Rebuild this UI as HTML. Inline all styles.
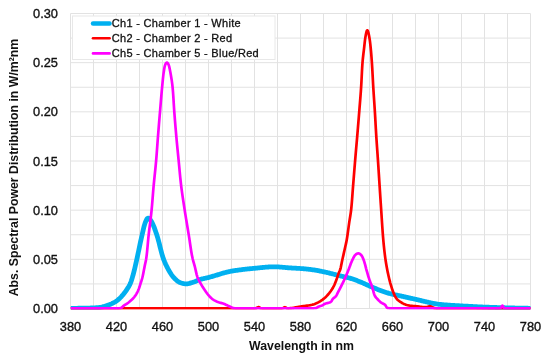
<!DOCTYPE html>
<html><head><meta charset="utf-8"><style>
html,body{margin:0;padding:0;background:#fff;}
svg{display:block;}
text{font-family:"Liberation Sans",sans-serif;fill:#111;}
</style></head><body>
<svg width="550" height="361" viewBox="0 0 550 361">
<rect width="550" height="361" fill="#fff"/>
<g stroke="#e2e2e2" stroke-width="1" fill="none">
<line x1="70.5" y1="13.5" x2="70.5" y2="308.5"/>
<line x1="93.5" y1="13.5" x2="93.5" y2="308.5"/>
<line x1="116.5" y1="13.5" x2="116.5" y2="308.5"/>
<line x1="139.5" y1="13.5" x2="139.5" y2="308.5"/>
<line x1="162.5" y1="13.5" x2="162.5" y2="308.5"/>
<line x1="185.5" y1="13.5" x2="185.5" y2="308.5"/>
<line x1="208.5" y1="13.5" x2="208.5" y2="308.5"/>
<line x1="231.5" y1="13.5" x2="231.5" y2="308.5"/>
<line x1="254.5" y1="13.5" x2="254.5" y2="308.5"/>
<line x1="277.5" y1="13.5" x2="277.5" y2="308.5"/>
<line x1="300.5" y1="13.5" x2="300.5" y2="308.5"/>
<line x1="323.5" y1="13.5" x2="323.5" y2="308.5"/>
<line x1="346.5" y1="13.5" x2="346.5" y2="308.5"/>
<line x1="369.5" y1="13.5" x2="369.5" y2="308.5"/>
<line x1="392.5" y1="13.5" x2="392.5" y2="308.5"/>
<line x1="415.5" y1="13.5" x2="415.5" y2="308.5"/>
<line x1="438.5" y1="13.5" x2="438.5" y2="308.5"/>
<line x1="461.5" y1="13.5" x2="461.5" y2="308.5"/>
<line x1="484.5" y1="13.5" x2="484.5" y2="308.5"/>
<line x1="507.5" y1="13.5" x2="507.5" y2="308.5"/>
<line x1="530.5" y1="13.5" x2="530.5" y2="308.5"/>
<line x1="70.5" y1="13.50" x2="530.5" y2="13.50"/>
<line x1="70.5" y1="38.08" x2="530.5" y2="38.08"/>
<line x1="70.5" y1="62.67" x2="530.5" y2="62.67"/>
<line x1="70.5" y1="87.25" x2="530.5" y2="87.25"/>
<line x1="70.5" y1="111.83" x2="530.5" y2="111.83"/>
<line x1="70.5" y1="136.41" x2="530.5" y2="136.41"/>
<line x1="70.5" y1="161.00" x2="530.5" y2="161.00"/>
<line x1="70.5" y1="185.58" x2="530.5" y2="185.58"/>
<line x1="70.5" y1="210.16" x2="530.5" y2="210.16"/>
<line x1="70.5" y1="234.75" x2="530.5" y2="234.75"/>
<line x1="70.5" y1="259.33" x2="530.5" y2="259.33"/>
<line x1="70.5" y1="283.91" x2="530.5" y2="283.91"/>
<line x1="70.5" y1="308.50" x2="530.5" y2="308.50"/>
</g>
<defs><clipPath id="pa"><rect x="69" y="12" width="462.5" height="297.4"/></clipPath></defs>
<g fill="none" stroke-linejoin="round" stroke-linecap="butt" clip-path="url(#pa)">
<polyline stroke="#00b0f0" stroke-width="4.8" points="70.78,308.30 71.30,308.30 72.00,308.30 72.75,308.30 73.50,308.29 74.25,308.29 75.00,308.29 75.75,308.28 76.50,308.28 77.25,308.28 78.00,308.27 78.75,308.26 79.50,308.26 80.25,308.25 81.00,308.24 81.75,308.24 82.50,308.23 83.25,308.22 84.00,308.21 84.75,308.20 85.50,308.19 86.25,308.18 87.00,308.16 87.75,308.14 88.50,308.11 89.25,308.09 90.00,308.06 90.75,308.02 91.50,307.99 92.25,307.96 92.99,307.92 93.74,307.88 94.49,307.84 95.24,307.80 95.99,307.75 96.74,307.70 97.49,307.64 98.23,307.58 98.98,307.51 99.72,307.42 100.47,307.32 101.21,307.19 101.94,307.04 102.67,306.86 103.39,306.65 104.11,306.44 104.82,306.21 105.53,305.98 106.25,305.75 106.96,305.51 107.67,305.27 108.38,305.02 109.08,304.76 109.78,304.48 110.47,304.20 111.16,303.91 111.85,303.60 112.52,303.28 113.20,302.95 113.86,302.60 114.52,302.24 115.16,301.86 115.80,301.46 116.42,301.04 117.03,300.60 117.62,300.14 118.19,299.66 118.75,299.16 119.31,298.65 119.85,298.14 120.38,297.61 120.91,297.08 121.42,296.53 121.93,295.98 122.42,295.41 122.91,294.84 123.38,294.26 123.85,293.68 124.32,293.09 124.77,292.49 125.22,291.89 125.66,291.28 126.09,290.67 126.51,290.05 126.92,289.42 127.33,288.79 127.73,288.16 128.13,287.52 128.52,286.88 128.90,286.24 129.27,285.58 129.63,284.92 129.96,284.25 130.27,283.57 130.56,282.88 130.84,282.18 131.10,281.48 131.35,280.77 131.58,280.06 131.81,279.35 132.03,278.63 132.25,277.91 132.46,277.19 132.66,276.47 132.86,275.74 133.06,275.02 133.25,274.30 133.45,273.57 133.64,272.85 133.83,272.12 134.02,271.40 134.20,270.67 134.39,269.94 134.56,269.21 134.74,268.48 134.91,267.75 135.08,267.02 135.25,266.29 135.42,265.56 135.58,264.83 135.75,264.10 135.91,263.37 136.08,262.63 136.24,261.90 136.40,261.17 136.57,260.44 136.73,259.71 136.90,258.98 137.06,258.24 137.22,257.51 137.38,256.78 137.54,256.05 137.70,255.31 137.86,254.58 138.01,253.85 138.17,253.11 138.32,252.38 138.47,251.64 138.63,250.91 138.78,250.18 138.93,249.44 139.08,248.71 139.24,247.97 139.39,247.24 139.54,246.50 139.70,245.77 139.85,245.04 140.00,244.30 140.16,243.57 140.32,242.83 140.47,242.10 140.63,241.37 140.79,240.63 140.95,239.90 141.11,239.17 141.28,238.44 141.44,237.71 141.61,236.98 141.78,236.25 141.95,235.52 142.13,234.79 142.30,234.06 142.46,233.32 142.63,232.59 142.79,231.86 142.95,231.13 143.11,230.39 143.27,229.66 143.44,228.93 143.61,228.20 143.79,227.47 143.97,226.74 144.16,226.02 144.37,225.30 144.59,224.58 144.82,223.87 145.06,223.16 145.33,222.46 145.60,221.76 145.89,221.07 146.20,220.38 146.53,219.71 146.90,219.06 147.34,218.49 147.89,218.10 148.51,218.08 149.11,218.40 149.63,218.92 150.10,219.50 150.53,220.11 150.95,220.73 151.34,221.37 151.72,222.01 152.09,222.67 152.43,223.34 152.76,224.01 153.07,224.69 153.38,225.38 153.67,226.07 153.95,226.76 154.22,227.46 154.48,228.17 154.74,228.87 154.99,229.58 155.24,230.28 155.48,230.99 155.72,231.70 155.96,232.41 156.20,233.13 156.44,233.84 156.68,234.55 156.92,235.26 157.15,235.97 157.37,236.69 157.59,237.41 157.80,238.13 158.00,238.85 158.21,239.57 158.40,240.29 158.60,241.02 158.79,241.74 158.97,242.47 159.16,243.20 159.34,243.92 159.52,244.65 159.70,245.38 159.88,246.11 160.06,246.84 160.24,247.56 160.42,248.29 160.60,249.02 160.78,249.75 160.97,250.47 161.16,251.20 161.35,251.93 161.55,252.65 161.75,253.37 161.95,254.09 162.16,254.81 162.38,255.53 162.60,256.25 162.83,256.96 163.06,257.67 163.30,258.38 163.55,259.09 163.81,259.79 164.08,260.50 164.36,261.19 164.64,261.89 164.94,262.58 165.24,263.26 165.54,263.95 165.86,264.63 166.18,265.31 166.51,265.98 166.84,266.65 167.18,267.32 167.53,267.98 167.88,268.65 168.24,269.30 168.61,269.96 168.98,270.61 169.36,271.26 169.74,271.90 170.13,272.54 170.53,273.18 170.93,273.81 171.34,274.44 171.76,275.06 172.20,275.67 172.65,276.27 173.12,276.86 173.60,277.43 174.11,277.98 174.63,278.52 175.16,279.05 175.71,279.56 176.27,280.06 176.84,280.55 177.43,281.01 178.04,281.44 178.67,281.84 179.33,282.20 180.01,282.51 180.71,282.77 181.42,283.01 182.14,283.23 182.86,283.43 183.59,283.60 184.33,283.74 185.07,283.83 185.82,283.87 186.57,283.86 187.31,283.79 188.05,283.68 188.79,283.53 189.51,283.35 190.23,283.14 190.95,282.92 191.67,282.69 192.38,282.46 193.09,282.23 193.80,281.99 194.51,281.75 195.21,281.48 195.90,281.19 196.59,280.89 197.27,280.58 197.96,280.28 198.65,280.00 199.36,279.73 200.07,279.49 200.78,279.28 201.51,279.08 202.23,278.89 202.96,278.72 203.69,278.55 204.43,278.39 205.16,278.23 205.89,278.07 206.62,277.90 207.35,277.73 208.08,277.55 208.81,277.37 209.53,277.17 210.26,276.98 210.98,276.77 211.70,276.57 212.42,276.36 213.14,276.15 213.86,275.93 214.58,275.72 215.30,275.51 216.02,275.29 216.73,275.08 217.45,274.86 218.17,274.64 218.88,274.41 219.60,274.19 220.31,273.96 221.03,273.74 221.75,273.52 222.47,273.30 223.19,273.09 223.91,272.89 224.63,272.70 225.36,272.51 226.09,272.33 226.82,272.15 227.54,271.98 228.28,271.81 229.01,271.65 229.74,271.49 230.48,271.34 231.21,271.21 231.95,271.08 232.69,270.95 233.43,270.83 234.17,270.72 234.91,270.60 235.66,270.49 236.40,270.38 237.14,270.27 237.88,270.17 238.63,270.07 239.37,269.97 240.11,269.87 240.86,269.77 241.60,269.68 242.34,269.58 243.09,269.49 243.83,269.40 244.58,269.32 245.32,269.23 246.07,269.15 246.81,269.06 247.56,268.98 248.31,268.90 249.05,268.82 249.80,268.75 250.54,268.67 251.29,268.60 252.04,268.52 252.78,268.45 253.53,268.38 254.28,268.31 255.02,268.24 255.77,268.17 256.52,268.10 257.26,268.02 258.01,267.95 258.76,267.87 259.50,267.80 260.25,267.72 260.99,267.65 261.74,267.57 262.49,267.50 263.23,267.43 263.98,267.36 264.73,267.29 265.47,267.23 266.22,267.17 266.97,267.11 267.72,267.06 268.47,267.01 269.22,266.96 269.96,266.92 270.71,266.89 271.46,266.86 272.21,266.84 272.96,266.82 273.71,266.81 274.46,266.80 275.21,266.81 275.96,266.82 276.71,266.85 277.46,266.88 278.21,266.92 278.96,266.96 279.71,267.02 280.45,267.07 281.20,267.13 281.95,267.20 282.70,267.27 283.44,267.34 284.19,267.41 284.94,267.48 285.68,267.55 286.43,267.61 287.18,267.68 287.92,267.74 288.67,267.80 289.42,267.86 290.17,267.91 290.92,267.96 291.66,268.00 292.41,268.04 293.16,268.08 293.91,268.13 294.66,268.17 295.41,268.21 296.16,268.25 296.91,268.29 297.66,268.33 298.40,268.37 299.15,268.42 299.90,268.47 300.65,268.52 301.40,268.57 302.15,268.63 302.89,268.69 303.64,268.75 304.39,268.82 305.13,268.89 305.88,268.97 306.63,269.04 307.37,269.12 308.12,269.20 308.86,269.29 309.61,269.38 310.35,269.47 311.10,269.56 311.84,269.66 312.58,269.76 313.33,269.86 314.07,269.97 314.81,270.08 315.55,270.20 316.29,270.33 317.03,270.46 317.77,270.59 318.50,270.73 319.24,270.88 319.97,271.02 320.71,271.17 321.44,271.33 322.18,271.48 322.91,271.64 323.64,271.80 324.38,271.96 325.11,272.12 325.84,272.28 326.57,272.44 327.30,272.61 328.04,272.78 328.76,272.95 329.49,273.13 330.22,273.31 330.95,273.49 331.68,273.68 332.40,273.86 333.13,274.05 333.86,274.24 334.58,274.42 335.31,274.61 336.03,274.80 336.76,274.99 337.49,275.17 338.21,275.36 338.94,275.54 339.67,275.72 340.40,275.89 341.13,276.07 341.86,276.24 342.59,276.40 343.32,276.57 344.05,276.73 344.78,276.90 345.52,277.06 346.25,277.23 346.98,277.41 347.70,277.59 348.43,277.77 349.16,277.97 349.88,278.17 350.60,278.38 351.31,278.60 352.03,278.83 352.74,279.07 353.45,279.31 354.16,279.56 354.86,279.82 355.56,280.08 356.27,280.34 356.97,280.61 357.67,280.88 358.36,281.15 359.06,281.43 359.76,281.71 360.45,281.99 361.15,282.27 361.84,282.56 362.53,282.86 363.21,283.16 363.90,283.47 364.58,283.78 365.27,284.09 365.95,284.40 366.63,284.71 367.31,285.02 368.00,285.32 368.68,285.63 369.37,285.93 370.06,286.22 370.75,286.52 371.44,286.81 372.13,287.11 372.82,287.40 373.51,287.70 374.20,287.99 374.89,288.28 375.58,288.57 376.28,288.85 376.97,289.13 377.67,289.41 378.37,289.68 379.07,289.95 379.77,290.21 380.48,290.47 381.18,290.73 381.89,290.99 382.59,291.24 383.30,291.49 384.01,291.74 384.72,291.98 385.43,292.22 386.14,292.45 386.85,292.68 387.57,292.90 388.29,293.12 389.01,293.33 389.73,293.52 390.46,293.72 391.18,293.90 391.91,294.07 392.64,294.24 393.38,294.40 394.11,294.56 394.84,294.72 395.58,294.87 396.31,295.02 397.05,295.17 397.78,295.33 398.52,295.48 399.25,295.64 399.98,295.80 400.71,295.96 401.45,296.12 402.18,296.29 402.91,296.45 403.64,296.62 404.37,296.79 405.10,296.95 405.83,297.12 406.56,297.29 407.30,297.46 408.03,297.62 408.76,297.79 409.49,297.96 410.22,298.12 410.95,298.29 411.68,298.45 412.42,298.62 413.15,298.78 413.88,298.94 414.61,299.11 415.34,299.27 416.08,299.43 416.81,299.59 417.54,299.76 418.27,299.93 419.00,300.10 419.73,300.27 420.46,300.45 421.19,300.62 421.92,300.80 422.65,300.98 423.38,301.15 424.10,301.33 424.83,301.51 425.56,301.68 426.29,301.86 427.02,302.03 427.75,302.20 428.48,302.37 429.21,302.53 429.95,302.70 430.68,302.86 431.41,303.01 432.15,303.16 432.88,303.31 433.62,303.45 434.36,303.58 435.10,303.71 435.84,303.84 436.58,303.95 437.32,304.06 438.06,304.17 438.81,304.26 439.55,304.35 440.30,304.43 441.04,304.50 441.79,304.58 442.54,304.65 443.28,304.71 444.03,304.78 444.78,304.84 445.53,304.90 446.27,304.96 447.02,305.01 447.77,305.07 448.52,305.12 449.26,305.17 450.01,305.22 450.76,305.27 451.51,305.32 452.26,305.37 453.01,305.41 453.76,305.46 454.50,305.50 455.25,305.54 456.00,305.59 456.75,305.63 457.50,305.67 458.25,305.71 459.00,305.76 459.75,305.80 460.50,305.84 461.24,305.89 461.99,305.93 462.74,305.97 463.49,306.02 464.24,306.06 464.99,306.10 465.74,306.14 466.49,306.19 467.23,306.23 467.98,306.27 468.73,306.31 469.48,306.35 470.23,306.40 470.98,306.44 471.73,306.48 472.48,306.52 473.22,306.56 473.97,306.60 474.72,306.64 475.47,306.67 476.22,306.71 476.97,306.75 477.72,306.79 478.47,306.82 479.22,306.86 479.97,306.89 480.72,306.93 481.46,306.96 482.21,307.00 482.96,307.03 483.71,307.06 484.46,307.09 485.21,307.12 485.96,307.15 486.71,307.18 487.46,307.21 488.21,307.24 488.96,307.26 489.71,307.29 490.46,307.32 491.21,307.34 491.96,307.36 492.71,307.39 493.46,307.41 494.21,307.44 494.96,307.46 495.71,307.49 496.45,307.51 497.20,307.53 497.95,307.56 498.70,307.58 499.45,307.61 500.20,307.63 500.95,307.65 501.70,307.67 502.45,307.70 503.20,307.72 503.95,307.74 504.70,307.76 505.45,307.78 506.20,307.80 506.95,307.83 507.70,307.85 508.45,307.87 509.20,307.89 509.95,307.91 510.70,307.93 511.45,307.94 512.20,307.96 512.95,307.98 513.70,308.00 514.45,308.02 515.20,308.04 515.95,308.05 516.70,308.07 517.45,308.09 518.20,308.10 518.95,308.12 519.70,308.13 520.45,308.15 521.20,308.16 521.95,308.17 522.70,308.19 523.45,308.20 524.20,308.21 524.95,308.22 525.70,308.24 526.45,308.25 527.20,308.26 527.95,308.27 528.69,308.28 529.44,308.28 530.10,308.29 530.42,308.30"/>
<polyline stroke="#ff0000" stroke-width="2.7" points="70.78,308.30 71.30,308.30 72.00,308.30 72.75,308.30 73.50,308.30 74.25,308.30 75.00,308.30 75.75,308.30 76.50,308.30 77.25,308.30 78.00,308.30 78.75,308.30 79.50,308.30 80.25,308.30 81.00,308.30 81.75,308.30 82.50,308.30 83.25,308.30 84.00,308.30 84.75,308.30 85.50,308.30 86.25,308.30 87.00,308.30 87.75,308.30 88.50,308.30 89.25,308.30 90.00,308.30 90.75,308.30 91.50,308.30 92.25,308.30 93.00,308.30 93.75,308.30 94.50,308.30 95.25,308.30 96.00,308.30 96.75,308.30 97.50,308.30 98.25,308.30 99.00,308.30 99.75,308.30 100.50,308.30 101.25,308.30 102.00,308.30 102.75,308.30 103.50,308.30 104.25,308.30 105.00,308.30 105.75,308.30 106.50,308.30 107.25,308.30 108.00,308.30 108.75,308.30 109.50,308.30 110.25,308.30 111.00,308.30 111.75,308.30 112.50,308.30 113.25,308.30 114.00,308.30 114.75,308.30 115.50,308.30 116.25,308.30 117.00,308.30 117.75,308.30 118.50,308.30 119.25,308.30 120.00,308.30 120.75,308.30 121.50,308.30 122.25,308.30 123.00,308.30 123.75,308.30 124.50,308.30 125.25,308.30 126.00,308.30 126.75,308.30 127.50,308.30 128.25,308.30 129.00,308.30 129.75,308.30 130.50,308.30 131.25,308.30 132.00,308.30 132.75,308.30 133.50,308.30 134.25,308.30 135.00,308.30 135.75,308.30 136.50,308.30 137.25,308.30 138.00,308.30 138.75,308.30 139.50,308.30 140.25,308.30 141.00,308.30 141.75,308.30 142.50,308.30 143.25,308.30 144.00,308.30 144.75,308.30 145.50,308.30 146.25,308.30 147.00,308.30 147.75,308.30 148.50,308.30 149.25,308.30 150.00,308.30 150.75,308.30 151.50,308.30 152.25,308.30 153.00,308.30 153.75,308.30 154.50,308.30 155.25,308.30 156.00,308.30 156.75,308.30 157.50,308.30 158.25,308.30 159.00,308.30 159.75,308.30 160.50,308.30 161.25,308.30 162.00,308.30 162.75,308.30 163.50,308.30 164.25,308.30 165.00,308.30 165.75,308.30 166.50,308.30 167.25,308.30 168.00,308.30 168.75,308.30 169.50,308.30 170.25,308.30 171.00,308.30 171.75,308.30 172.50,308.30 173.25,308.30 174.00,308.30 174.75,308.30 175.50,308.30 176.25,308.30 177.00,308.30 177.75,308.30 178.50,308.30 179.25,308.30 180.00,308.30 180.75,308.30 181.50,308.30 182.25,308.30 183.00,308.30 183.75,308.30 184.50,308.30 185.25,308.30 186.00,308.30 186.75,308.30 187.50,308.30 188.25,308.30 189.00,308.30 189.75,308.30 190.50,308.30 191.25,308.30 192.00,308.30 192.75,308.30 193.50,308.30 194.25,308.30 195.00,308.30 195.75,308.30 196.50,308.30 197.25,308.30 198.00,308.30 198.75,308.30 199.50,308.30 200.25,308.30 201.00,308.30 201.75,308.30 202.50,308.30 203.25,308.30 204.00,308.30 204.75,308.30 205.50,308.30 206.25,308.30 207.00,308.30 207.75,308.30 208.50,308.30 209.25,308.30 210.00,308.30 210.75,308.30 211.50,308.30 212.25,308.30 213.00,308.30 213.75,308.30 214.50,308.30 215.25,308.30 216.00,308.30 216.75,308.30 217.50,308.30 218.25,308.30 219.00,308.30 219.75,308.30 220.50,308.30 221.25,308.30 222.00,308.30 222.75,308.30 223.50,308.30 224.25,308.30 225.00,308.30 225.75,308.30 226.50,308.30 227.25,308.30 228.00,308.30 228.75,308.30 229.50,308.30 230.25,308.30 231.00,308.30 231.75,308.30 232.50,308.30 233.25,308.30 234.00,308.30 234.75,308.30 235.50,308.30 236.25,308.30 237.00,308.30 237.75,308.30 238.50,308.30 239.25,308.30 240.00,308.30 240.75,308.30 241.50,308.30 242.25,308.30 243.00,308.30 243.75,308.30 244.50,308.30 245.25,308.30 246.00,308.30 246.75,308.30 247.50,308.30 248.25,308.30 249.00,308.30 249.75,308.30 250.50,308.30 251.25,308.30 252.00,308.30 252.75,308.30 253.50,308.30 254.25,308.30 255.00,308.28 255.74,308.22 256.47,308.07 257.13,307.79 257.71,307.37 258.27,307.04 258.84,307.08 259.39,307.45 259.98,307.86 260.66,308.11 261.39,308.23 262.14,308.29 262.89,308.30 263.64,308.30 264.39,308.30 265.14,308.30 265.89,308.30 266.64,308.30 267.39,308.30 268.14,308.30 268.89,308.30 269.64,308.30 270.39,308.30 271.14,308.30 271.89,308.30 272.64,308.30 273.39,308.30 274.14,308.30 274.89,308.30 275.64,308.30 276.39,308.30 277.14,308.30 277.89,308.30 278.64,308.30 279.39,308.30 280.14,308.30 280.89,308.30 281.64,308.29 282.38,308.22 283.09,308.05 283.73,307.73 284.31,307.35 284.89,307.22 285.46,307.46 286.05,307.84 286.72,308.10 287.45,308.23 288.20,308.28 288.94,308.26 289.69,308.22 290.44,308.16 291.19,308.08 291.93,308.00 292.68,307.92 293.42,307.81 294.16,307.70 294.90,307.57 295.64,307.43 296.37,307.29 297.11,307.14 297.84,306.99 298.58,306.85 299.32,306.72 300.06,306.60 300.80,306.48 301.54,306.37 302.28,306.27 303.03,306.18 303.77,306.08 304.52,305.99 305.26,305.90 306.01,305.81 306.75,305.71 307.49,305.61 308.24,305.50 308.98,305.39 309.72,305.26 310.45,305.13 311.19,304.98 311.92,304.81 312.64,304.62 313.36,304.41 314.07,304.17 314.78,303.91 315.47,303.64 316.17,303.35 316.85,303.04 317.53,302.73 318.20,302.40 318.87,302.05 319.52,301.68 320.16,301.29 320.80,300.89 321.42,300.47 322.03,300.04 322.64,299.60 323.23,299.14 323.82,298.67 324.39,298.19 324.95,297.70 325.51,297.19 326.05,296.67 326.58,296.14 327.09,295.59 327.60,295.04 328.10,294.48 328.59,293.91 329.07,293.33 329.53,292.75 329.99,292.15 330.44,291.55 330.87,290.94 331.30,290.32 331.71,289.70 332.12,289.07 332.51,288.43 332.89,287.78 333.25,287.13 333.61,286.46 333.94,285.80 334.27,285.12 334.58,284.43 334.87,283.75 335.16,283.05 335.44,282.36 335.71,281.66 335.98,280.96 336.24,280.26 336.50,279.55 336.76,278.85 337.01,278.14 337.25,277.43 337.48,276.72 337.71,276.00 337.94,275.29 338.17,274.58 338.41,273.87 338.67,273.16 338.95,272.47 339.26,271.78 339.59,271.11 339.90,270.43 340.16,269.73 340.39,269.02 340.58,268.29 340.76,267.56 340.92,266.83 341.07,266.10 341.21,265.36 341.35,264.62 341.49,263.88 341.63,263.15 341.77,262.41 341.92,261.68 342.08,260.94 342.24,260.21 342.41,259.48 342.57,258.75 342.73,258.02 342.90,257.28 343.06,256.55 343.23,255.82 343.40,255.09 343.56,254.36 343.72,253.63 343.89,252.89 344.05,252.16 344.22,251.43 344.38,250.70 344.54,249.97 344.71,249.24 344.87,248.50 345.04,247.77 345.21,247.04 345.38,246.31 345.54,245.58 345.71,244.85 345.87,244.12 346.03,243.38 346.19,242.65 346.34,241.91 346.48,241.18 346.62,240.44 346.75,239.70 346.88,238.96 347.00,238.22 347.12,237.48 347.24,236.74 347.35,236.00 347.46,235.26 347.57,234.52 347.68,233.78 347.78,233.03 347.89,232.29 347.99,231.55 348.09,230.80 348.19,230.06 348.29,229.32 348.39,228.57 348.49,227.83 348.59,227.09 348.69,226.34 348.79,225.60 348.89,224.86 349.00,224.12 349.10,223.37 349.21,222.63 349.32,221.89 349.43,221.15 349.55,220.41 349.66,219.67 349.78,218.92 349.91,218.18 350.03,217.44 350.15,216.70 350.27,215.96 350.39,215.22 350.50,214.48 350.62,213.74 350.73,213.00 350.83,212.26 350.93,211.51 351.02,210.77 351.11,210.02 351.19,209.28 351.27,208.53 351.34,207.79 351.42,207.04 351.49,206.29 351.56,205.55 351.63,204.80 351.69,204.05 351.76,203.31 351.82,202.56 351.88,201.81 351.94,201.06 352.00,200.32 352.06,199.57 352.12,198.82 352.17,198.07 352.23,197.32 352.29,196.58 352.34,195.83 352.40,195.08 352.45,194.33 352.50,193.58 352.56,192.84 352.61,192.09 352.67,191.34 352.72,190.59 352.78,189.84 352.83,189.10 352.89,188.35 352.95,187.60 353.01,186.85 353.07,186.11 353.13,185.36 353.19,184.61 353.25,183.86 353.31,183.12 353.37,182.37 353.43,181.62 353.49,180.87 353.55,180.12 353.61,179.38 353.67,178.63 353.73,177.88 353.79,177.13 353.85,176.39 353.91,175.64 353.97,174.89 354.03,174.14 354.09,173.40 354.15,172.65 354.21,171.90 354.27,171.15 354.33,170.41 354.39,169.66 354.45,168.91 354.51,168.16 354.57,167.42 354.63,166.67 354.70,165.92 354.76,165.17 354.82,164.43 354.88,163.68 354.94,162.93 355.00,162.18 355.06,161.44 355.13,160.69 355.19,159.94 355.25,159.19 355.31,158.45 355.38,157.70 355.44,156.95 355.50,156.20 355.57,155.46 355.63,154.71 355.69,153.96 355.76,153.22 355.82,152.47 355.89,151.72 355.95,150.97 356.02,150.23 356.08,149.48 356.15,148.73 356.21,147.98 356.27,147.24 356.34,146.49 356.40,145.74 356.47,145.00 356.53,144.25 356.60,143.50 356.66,142.75 356.72,142.01 356.79,141.26 356.85,140.51 356.92,139.76 356.98,139.02 357.04,138.27 357.11,137.52 357.17,136.78 357.23,136.03 357.29,135.28 357.36,134.53 357.42,133.79 357.48,133.04 357.54,132.29 357.61,131.54 357.67,130.80 357.73,130.05 357.79,129.30 357.86,128.55 357.92,127.81 357.98,127.06 358.04,126.31 358.10,125.56 358.17,124.82 358.23,124.07 358.29,123.32 358.35,122.57 358.41,121.83 358.47,121.08 358.53,120.33 358.60,119.58 358.66,118.84 358.72,118.09 358.78,117.34 358.84,116.59 358.90,115.85 358.96,115.10 359.02,114.35 359.08,113.60 359.14,112.86 359.20,112.11 359.26,111.36 359.32,110.61 359.38,109.87 359.44,109.12 359.50,108.37 359.56,107.62 359.62,106.88 359.68,106.13 359.75,105.38 359.81,104.63 359.87,103.89 359.93,103.14 359.99,102.39 360.05,101.64 360.11,100.90 360.17,100.15 360.23,99.40 360.29,98.65 360.35,97.91 360.41,97.16 360.47,96.41 360.52,95.66 360.58,94.91 360.64,94.17 360.69,93.42 360.75,92.67 360.80,91.92 360.86,91.17 360.91,90.43 360.96,89.68 361.01,88.93 361.06,88.18 361.11,87.43 361.16,86.68 361.20,85.94 361.25,85.19 361.29,84.44 361.33,83.69 361.38,82.94 361.42,82.19 361.46,81.44 361.49,80.69 361.53,79.95 361.57,79.20 361.61,78.45 361.64,77.70 361.68,76.95 361.72,76.20 361.75,75.45 361.79,74.70 361.83,73.95 361.87,73.20 361.90,72.45 361.94,71.71 361.98,70.96 362.02,70.21 362.07,69.46 362.11,68.71 362.15,67.96 362.20,67.21 362.25,66.46 362.29,65.72 362.34,64.97 362.40,64.22 362.45,63.47 362.51,62.72 362.57,61.98 362.63,61.23 362.70,60.48 362.77,59.73 362.84,58.99 362.92,58.24 362.99,57.50 363.08,56.75 363.16,56.01 363.24,55.26 363.33,54.51 363.42,53.77 363.50,53.03 363.59,52.28 363.68,51.54 363.77,50.79 363.86,50.05 363.95,49.30 364.03,48.56 364.12,47.81 364.21,47.07 364.29,46.32 364.37,45.58 364.45,44.83 364.53,44.08 364.61,43.34 364.69,42.59 364.77,41.85 364.86,41.10 364.95,40.36 365.05,39.61 365.15,38.87 365.25,38.13 365.37,37.39 365.49,36.65 365.62,35.91 365.75,35.17 365.89,34.43 366.04,33.70 366.20,32.97 366.37,32.24 366.56,31.51 366.80,30.84 367.14,30.38 367.53,30.41 367.86,30.91 368.10,31.59 368.31,32.31 368.48,33.04 368.65,33.77 368.81,34.50 368.96,35.24 369.10,35.97 369.24,36.71 369.37,37.45 369.49,38.19 369.61,38.93 369.72,39.67 369.83,40.41 369.93,41.16 370.03,41.90 370.12,42.65 370.21,43.39 370.29,44.14 370.37,44.88 370.45,45.63 370.53,46.37 370.61,47.12 370.69,47.87 370.76,48.61 370.83,49.36 370.90,50.10 370.97,50.85 371.04,51.60 371.11,52.35 371.17,53.09 371.23,53.84 371.30,54.59 371.36,55.33 371.41,56.08 371.47,56.83 371.53,57.58 371.58,58.33 371.64,59.07 371.69,59.82 371.75,60.57 371.80,61.32 371.85,62.07 371.90,62.82 371.95,63.56 372.00,64.31 372.05,65.06 372.09,65.81 372.14,66.56 372.18,67.31 372.23,68.05 372.27,68.80 372.32,69.55 372.36,70.30 372.40,71.05 372.44,71.80 372.48,72.55 372.52,73.30 372.56,74.05 372.60,74.79 372.64,75.54 372.68,76.29 372.72,77.04 372.76,77.79 372.80,78.54 372.84,79.29 372.88,80.04 372.92,80.79 372.96,81.54 373.00,82.28 373.04,83.03 373.08,83.78 373.12,84.53 373.16,85.28 373.21,86.03 373.25,86.78 373.30,87.53 373.34,88.27 373.39,89.02 373.43,89.77 373.48,90.52 373.53,91.27 373.58,92.02 373.63,92.77 373.67,93.51 373.72,94.26 373.77,95.01 373.82,95.76 373.87,96.51 373.92,97.26 373.97,98.00 374.02,98.75 374.07,99.50 374.12,100.25 374.18,101.00 374.23,101.75 374.28,102.49 374.33,103.24 374.38,103.99 374.43,104.74 374.48,105.49 374.53,106.24 374.57,106.98 374.62,107.73 374.67,108.48 374.72,109.23 374.77,109.98 374.81,110.73 374.86,111.47 374.91,112.22 374.95,112.97 375.00,113.72 375.04,114.47 375.09,115.22 375.13,115.97 375.17,116.72 375.22,117.46 375.26,118.21 375.30,118.96 375.34,119.71 375.38,120.46 375.43,121.21 375.47,121.96 375.51,122.71 375.55,123.45 375.59,124.20 375.63,124.95 375.68,125.70 375.72,126.45 375.76,127.20 375.80,127.95 375.84,128.70 375.89,129.45 375.93,130.19 375.97,130.94 376.02,131.69 376.06,132.44 376.10,133.19 376.15,133.94 376.19,134.69 376.24,135.43 376.29,136.18 376.33,136.93 376.38,137.68 376.43,138.43 376.48,139.18 376.53,139.93 376.58,140.67 376.63,141.42 376.68,142.17 376.73,142.92 376.78,143.67 376.84,144.41 376.89,145.16 376.94,145.91 376.99,146.66 377.05,147.41 377.10,148.16 377.15,148.90 377.21,149.65 377.26,150.40 377.31,151.15 377.37,151.90 377.42,152.64 377.47,153.39 377.53,154.14 377.58,154.89 377.63,155.64 377.68,156.38 377.74,157.13 377.79,157.88 377.84,158.63 377.89,159.38 377.94,160.13 377.99,160.87 378.04,161.62 378.09,162.37 378.14,163.12 378.19,163.87 378.24,164.62 378.29,165.36 378.34,166.11 378.39,166.86 378.44,167.61 378.48,168.36 378.53,169.11 378.58,169.86 378.63,170.60 378.68,171.35 378.72,172.10 378.77,172.85 378.82,173.60 378.87,174.35 378.92,175.09 378.97,175.84 379.01,176.59 379.06,177.34 379.11,178.09 379.16,178.84 379.20,179.59 379.25,180.33 379.30,181.08 379.35,181.83 379.40,182.58 379.45,183.33 379.49,184.08 379.54,184.82 379.59,185.57 379.64,186.32 379.69,187.07 379.74,187.82 379.79,188.57 379.83,189.31 379.88,190.06 379.93,190.81 379.98,191.56 380.03,192.31 380.08,193.06 380.13,193.81 380.17,194.55 380.22,195.30 380.27,196.05 380.32,196.80 380.37,197.55 380.42,198.30 380.47,199.04 380.52,199.79 380.56,200.54 380.61,201.29 380.66,202.04 380.71,202.79 380.76,203.53 380.81,204.28 380.86,205.03 380.91,205.78 380.96,206.53 381.01,207.28 381.06,208.02 381.11,208.77 381.16,209.52 381.21,210.27 381.26,211.02 381.31,211.77 381.36,212.51 381.41,213.26 381.46,214.01 381.51,214.76 381.56,215.51 381.61,216.26 381.65,217.00 381.70,217.75 381.75,218.50 381.80,219.25 381.85,220.00 381.89,220.75 381.94,221.50 381.99,222.24 382.04,222.99 382.09,223.74 382.14,224.49 382.19,225.24 382.24,225.99 382.29,226.73 382.34,227.48 382.39,228.23 382.44,228.98 382.50,229.73 382.55,230.48 382.60,231.22 382.66,231.97 382.71,232.72 382.77,233.47 382.83,234.21 382.88,234.96 382.94,235.71 383.00,236.46 383.06,237.21 383.13,237.95 383.19,238.70 383.25,239.45 383.32,240.19 383.38,240.94 383.45,241.69 383.52,242.44 383.59,243.18 383.66,243.93 383.73,244.68 383.81,245.42 383.88,246.17 383.96,246.91 384.04,247.66 384.12,248.41 384.20,249.15 384.28,249.90 384.37,250.64 384.45,251.39 384.54,252.13 384.63,252.88 384.72,253.62 384.81,254.37 384.90,255.11 385.00,255.85 385.09,256.60 385.19,257.34 385.29,258.08 385.39,258.83 385.50,259.57 385.60,260.31 385.72,261.05 385.83,261.80 385.95,262.54 386.07,263.28 386.20,264.02 386.33,264.75 386.46,265.49 386.59,266.23 386.73,266.97 386.86,267.71 387.00,268.44 387.14,269.18 387.28,269.92 387.43,270.65 387.57,271.39 387.72,272.12 387.87,272.86 388.02,273.59 388.18,274.33 388.34,275.06 388.50,275.79 388.67,276.52 388.84,277.25 389.01,277.98 389.18,278.71 389.36,279.44 389.54,280.17 389.73,280.89 389.92,281.62 390.12,282.34 390.31,283.07 390.52,283.79 390.72,284.51 390.94,285.23 391.15,285.95 391.37,286.66 391.60,287.38 391.83,288.09 392.06,288.81 392.30,289.52 392.55,290.23 392.80,290.93 393.05,291.64 393.31,292.34 393.58,293.04 393.86,293.74 394.15,294.43 394.47,295.11 394.80,295.78 395.15,296.44 395.53,297.09 395.93,297.72 396.36,298.34 396.82,298.93 397.32,299.48 397.85,300.01 398.42,300.49 399.02,300.95 399.63,301.38 400.26,301.79 400.89,302.19 401.53,302.58 402.18,302.96 402.83,303.33 403.49,303.68 404.17,304.02 404.85,304.33 405.54,304.60 406.25,304.84 406.98,305.05 407.70,305.23 408.43,305.39 409.17,305.53 409.91,305.66 410.65,305.76 411.40,305.85 412.14,305.92 412.89,305.98 413.64,306.03 414.39,306.08 415.14,306.13 415.88,306.18 416.63,306.24 417.38,306.32 418.12,306.41 418.87,306.51 419.61,306.62 420.35,306.72 421.10,306.81 421.84,306.89 422.59,306.97 423.33,307.04 424.08,307.11 424.83,307.15 425.58,307.17 426.32,307.13 427.05,307.00 427.78,306.81 428.50,306.61 429.22,306.43 429.95,306.32 430.67,306.38 431.34,306.64 431.99,306.99 432.66,307.33 433.35,307.62 434.05,307.88 434.77,308.09 435.50,308.22 436.24,308.28 436.99,308.30 437.74,308.30 438.49,308.30 439.24,308.30 439.99,308.30 440.74,308.30 441.49,308.30 442.24,308.30 442.99,308.30 443.74,308.30 444.49,308.30 445.24,308.30 445.99,308.30 446.74,308.30 447.49,308.30 448.24,308.30 448.99,308.30 449.74,308.30 450.49,308.30 451.24,308.30 451.99,308.30 452.74,308.30 453.49,308.30 454.24,308.30 454.99,308.30 455.74,308.30 456.49,308.30 457.24,308.30 457.99,308.30 458.74,308.30 459.49,308.30 460.24,308.30 460.99,308.30 461.74,308.30 462.49,308.30 463.24,308.30 463.99,308.30 464.74,308.30 465.49,308.30 466.24,308.30 466.99,308.30 467.74,308.30 468.49,308.30 469.24,308.30 469.99,308.30 470.74,308.30 471.49,308.30 472.24,308.30 472.99,308.30 473.74,308.30 474.49,308.30 475.24,308.30 475.99,308.30 476.74,308.30 477.49,308.30 478.24,308.30 478.99,308.30 479.74,308.30 480.49,308.30 481.24,308.30 481.99,308.30 482.74,308.30 483.49,308.30 484.24,308.30 484.99,308.30 485.74,308.30 486.49,308.30 487.24,308.30 487.99,308.30 488.74,308.30 489.49,308.30 490.24,308.30 490.99,308.30 491.74,308.30 492.49,308.30 493.24,308.30 493.99,308.30 494.74,308.30 495.49,308.30 496.24,308.30 496.99,308.30 497.74,308.30 498.49,308.30 499.24,308.30 499.99,308.30 500.74,308.30 501.49,308.30 502.24,308.30 502.99,308.30 503.74,308.30 504.49,308.30 505.24,308.30 505.99,308.30 506.74,308.30 507.49,308.30 508.24,308.30 508.99,308.30 509.74,308.30 510.49,308.30 511.24,308.30 511.99,308.30 512.74,308.30 513.49,308.30 514.24,308.30 514.99,308.30 515.74,308.30 516.49,308.30 517.24,308.30 517.99,308.30 518.74,308.30 519.49,308.30 520.24,308.30 520.99,308.30 521.74,308.30 522.49,308.30 523.24,308.30 523.99,308.30 524.74,308.30 525.49,308.30 526.24,308.30 526.99,308.30 527.74,308.30 528.49,308.30 529.24,308.30 529.94,308.30 530.47,308.30"/>
<polyline stroke="#ff00ff" stroke-width="2.7" points="70.78,308.30 71.30,308.30 72.00,308.30 72.75,308.30 73.50,308.30 74.25,308.30 75.00,308.30 75.75,308.30 76.50,308.30 77.25,308.30 78.00,308.30 78.75,308.30 79.50,308.30 80.25,308.30 81.00,308.30 81.75,308.30 82.50,308.30 83.25,308.30 84.00,308.30 84.75,308.30 85.50,308.30 86.25,308.30 87.00,308.30 87.75,308.30 88.50,308.30 89.25,308.30 90.00,308.30 90.75,308.30 91.50,308.30 92.25,308.30 93.00,308.30 93.75,308.30 94.50,308.30 95.25,308.30 96.00,308.30 96.75,308.30 97.50,308.30 98.25,308.30 99.00,308.30 99.75,308.30 100.50,308.30 101.25,308.30 102.00,308.30 102.75,308.30 103.50,308.30 104.25,308.30 105.00,308.30 105.75,308.30 106.50,308.30 107.25,308.30 108.00,308.30 108.75,308.30 109.50,308.30 110.25,308.30 111.00,308.30 111.75,308.30 112.50,308.30 113.25,308.30 114.00,308.30 114.75,308.30 115.50,308.30 116.25,308.30 117.00,308.30 117.75,308.30 118.50,308.28 119.25,308.25 119.99,308.20 120.72,308.07 121.39,307.81 121.97,307.37 122.49,306.85 123.03,306.32 123.60,305.84 124.21,305.40 124.83,304.99 125.46,304.58 126.10,304.19 126.73,303.78 127.36,303.37 127.97,302.94 128.57,302.49 129.15,302.02 129.73,301.54 130.30,301.05 130.86,300.55 131.41,300.05 131.96,299.53 132.49,299.00 133.01,298.47 133.52,297.91 134.01,297.35 134.48,296.77 134.94,296.17 135.37,295.56 135.78,294.93 136.18,294.29 136.56,293.65 136.92,292.99 137.27,292.33 137.60,291.66 137.92,290.98 138.22,290.29 138.51,289.60 138.79,288.90 139.05,288.20 139.29,287.49 139.53,286.78 139.76,286.06 139.98,285.35 140.21,284.63 140.43,283.92 140.66,283.20 140.89,282.49 141.13,281.78 141.36,281.06 141.58,280.35 141.80,279.63 142.02,278.91 142.22,278.19 142.40,277.46 142.58,276.74 142.75,276.00 142.91,275.27 143.07,274.54 143.22,273.80 143.36,273.07 143.51,272.33 143.65,271.59 143.78,270.86 143.92,270.12 144.05,269.38 144.19,268.64 144.33,267.91 144.47,267.17 144.61,266.43 144.76,265.70 144.91,264.96 145.07,264.23 145.24,263.50 145.41,262.77 145.58,262.04 145.74,261.31 145.89,260.57 146.03,259.84 146.15,259.10 146.26,258.35 146.37,257.61 146.47,256.87 146.56,256.12 146.66,255.38 146.75,254.64 146.83,253.89 146.92,253.15 147.00,252.40 147.08,251.65 147.15,250.91 147.23,250.16 147.30,249.42 147.37,248.67 147.44,247.92 147.51,247.18 147.58,246.43 147.65,245.68 147.71,244.93 147.78,244.19 147.85,243.44 147.91,242.69 147.98,241.95 148.05,241.20 148.12,240.45 148.18,239.71 148.26,238.96 148.33,238.21 148.40,237.47 148.48,236.72 148.55,235.97 148.63,235.23 148.71,234.48 148.80,233.74 148.88,232.99 148.97,232.25 149.06,231.50 149.15,230.76 149.24,230.01 149.33,229.27 149.42,228.52 149.51,227.78 149.60,227.04 149.69,226.29 149.79,225.55 149.88,224.80 149.97,224.06 150.07,223.31 150.16,222.57 150.25,221.83 150.35,221.08 150.44,220.34 150.53,219.59 150.62,218.85 150.71,218.10 150.80,217.36 150.89,216.61 150.98,215.87 151.06,215.12 151.15,214.38 151.23,213.63 151.31,212.89 151.39,212.14 151.47,211.40 151.54,210.65 151.62,209.90 151.69,209.16 151.76,208.41 151.83,207.66 151.90,206.92 151.97,206.17 152.03,205.42 152.10,204.68 152.16,203.93 152.22,203.18 152.29,202.43 152.35,201.69 152.41,200.94 152.47,200.19 152.53,199.44 152.59,198.70 152.65,197.95 152.71,197.20 152.77,196.45 152.83,195.71 152.88,194.96 152.94,194.21 153.00,193.46 153.06,192.72 153.12,191.97 153.18,191.22 153.25,190.47 153.31,189.73 153.37,188.98 153.43,188.23 153.50,187.48 153.56,186.74 153.63,185.99 153.70,185.24 153.77,184.50 153.84,183.75 153.91,183.00 153.98,182.26 154.05,181.51 154.13,180.76 154.20,180.02 154.28,179.27 154.35,178.52 154.43,177.78 154.51,177.03 154.59,176.29 154.66,175.54 154.74,174.79 154.82,174.05 154.90,173.30 154.98,172.56 155.05,171.81 155.13,171.06 155.21,170.32 155.29,169.57 155.36,168.83 155.44,168.08 155.51,167.33 155.59,166.59 155.66,165.84 155.73,165.09 155.80,164.35 155.87,163.60 155.94,162.85 156.01,162.11 156.08,161.36 156.14,160.61 156.21,159.87 156.27,159.12 156.33,158.37 156.39,157.62 156.45,156.88 156.51,156.13 156.57,155.38 156.63,154.63 156.69,153.89 156.74,153.14 156.80,152.39 156.86,151.64 156.91,150.89 156.97,150.15 157.02,149.40 157.08,148.65 157.13,147.90 157.19,147.15 157.24,146.41 157.30,145.66 157.35,144.91 157.41,144.16 157.46,143.41 157.52,142.67 157.57,141.92 157.63,141.17 157.68,140.42 157.74,139.67 157.80,138.93 157.85,138.18 157.91,137.43 157.97,136.68 158.03,135.94 158.09,135.19 158.15,134.44 158.21,133.69 158.27,132.95 158.33,132.20 158.39,131.45 158.45,130.70 158.51,129.95 158.57,129.21 158.63,128.46 158.69,127.71 158.75,126.96 158.81,126.22 158.87,125.47 158.93,124.72 158.99,123.97 159.05,123.23 159.11,122.48 159.18,121.73 159.24,120.98 159.30,120.24 159.36,119.49 159.42,118.74 159.48,117.99 159.55,117.25 159.61,116.50 159.67,115.75 159.73,115.00 159.79,114.26 159.86,113.51 159.92,112.76 159.98,112.02 160.04,111.27 160.11,110.52 160.17,109.77 160.23,109.03 160.29,108.28 160.35,107.53 160.42,106.78 160.48,106.04 160.54,105.29 160.60,104.54 160.66,103.79 160.72,103.05 160.78,102.30 160.85,101.55 160.91,100.80 160.97,100.06 161.03,99.31 161.10,98.56 161.16,97.81 161.22,97.07 161.29,96.32 161.35,95.57 161.42,94.83 161.48,94.08 161.55,93.33 161.62,92.58 161.68,91.84 161.75,91.09 161.82,90.34 161.89,89.60 161.96,88.85 162.03,88.10 162.10,87.36 162.18,86.61 162.25,85.86 162.32,85.12 162.39,84.37 162.46,83.62 162.53,82.88 162.60,82.13 162.67,81.38 162.74,80.64 162.82,79.89 162.89,79.14 162.97,78.40 163.05,77.65 163.13,76.91 163.21,76.16 163.30,75.42 163.39,74.67 163.49,73.93 163.59,73.19 163.69,72.44 163.80,71.70 163.91,70.96 164.02,70.22 164.14,69.48 164.26,68.74 164.39,68.00 164.53,67.26 164.70,66.53 164.88,65.80 165.10,65.09 165.36,64.38 165.67,63.71 166.07,63.10 166.57,62.68 167.14,62.64 167.65,63.02 168.07,63.61 168.40,64.28 168.69,64.97 168.93,65.68 169.14,66.40 169.32,67.13 169.48,67.86 169.64,68.59 169.78,69.33 169.92,70.06 170.06,70.80 170.20,71.54 170.35,72.27 170.49,73.01 170.62,73.75 170.76,74.49 170.89,75.22 171.02,75.96 171.14,76.70 171.27,77.44 171.39,78.18 171.51,78.92 171.62,79.66 171.73,80.41 171.84,81.15 171.94,81.89 172.04,82.63 172.14,83.38 172.24,84.12 172.32,84.87 172.41,85.61 172.49,86.36 172.57,87.10 172.64,87.85 172.71,88.60 172.78,89.34 172.85,90.09 172.91,90.84 172.97,91.59 173.03,92.33 173.08,93.08 173.14,93.83 173.19,94.58 173.24,95.33 173.29,96.07 173.34,96.82 173.39,97.57 173.44,98.32 173.49,99.07 173.53,99.82 173.58,100.57 173.62,101.31 173.67,102.06 173.71,102.81 173.76,103.56 173.80,104.31 173.85,105.06 173.90,105.81 173.94,106.55 173.99,107.30 174.04,108.05 174.09,108.80 174.14,109.55 174.19,110.30 174.24,111.04 174.30,111.79 174.36,112.54 174.41,113.29 174.47,114.04 174.53,114.78 174.58,115.53 174.64,116.28 174.70,117.03 174.76,117.77 174.82,118.52 174.88,119.27 174.93,120.02 174.99,120.76 175.05,121.51 175.11,122.26 175.17,123.01 175.24,123.76 175.30,124.50 175.36,125.25 175.42,126.00 175.48,126.75 175.54,127.49 175.61,128.24 175.67,128.99 175.73,129.73 175.80,130.48 175.86,131.23 175.92,131.98 175.99,132.72 176.05,133.47 176.12,134.22 176.18,134.97 176.25,135.71 176.31,136.46 176.38,137.21 176.45,137.95 176.52,138.70 176.58,139.45 176.65,140.19 176.72,140.94 176.79,141.69 176.86,142.43 176.93,143.18 177.01,143.93 177.08,144.67 177.15,145.42 177.22,146.17 177.30,146.91 177.37,147.66 177.44,148.41 177.51,149.15 177.59,149.90 177.66,150.65 177.74,151.39 177.81,152.14 177.88,152.88 177.96,153.63 178.03,154.38 178.11,155.12 178.18,155.87 178.26,156.62 178.33,157.36 178.40,158.11 178.48,158.86 178.55,159.60 178.63,160.35 178.70,161.09 178.77,161.84 178.84,162.59 178.92,163.33 178.99,164.08 179.06,164.83 179.13,165.57 179.20,166.32 179.27,167.07 179.34,167.81 179.41,168.56 179.48,169.31 179.55,170.05 179.62,170.80 179.69,171.55 179.76,172.29 179.83,173.04 179.90,173.79 179.97,174.53 180.05,175.28 180.12,176.03 180.19,176.77 180.27,177.52 180.34,178.27 180.42,179.01 180.50,179.76 180.58,180.50 180.66,181.25 180.74,181.99 180.82,182.74 180.90,183.49 180.99,184.23 181.07,184.98 181.16,185.72 181.25,186.47 181.34,187.21 181.44,187.95 181.53,188.70 181.63,189.44 181.73,190.18 181.83,190.93 181.93,191.67 182.03,192.41 182.14,193.16 182.24,193.90 182.35,194.64 182.46,195.38 182.56,196.13 182.67,196.87 182.78,197.61 182.89,198.35 183.01,199.09 183.12,199.84 183.23,200.58 183.34,201.32 183.46,202.06 183.57,202.80 183.69,203.54 183.80,204.28 183.92,205.02 184.03,205.77 184.15,206.51 184.26,207.25 184.37,207.99 184.49,208.73 184.60,209.47 184.72,210.21 184.83,210.95 184.95,211.70 185.06,212.44 185.18,213.18 185.30,213.92 185.41,214.66 185.53,215.40 185.65,216.14 185.77,216.88 185.89,217.62 186.01,218.36 186.13,219.10 186.26,219.84 186.38,220.58 186.50,221.32 186.62,222.06 186.74,222.80 186.87,223.54 186.99,224.28 187.11,225.02 187.24,225.76 187.36,226.50 187.48,227.24 187.61,227.98 187.73,228.72 187.85,229.46 187.98,230.20 188.10,230.94 188.22,231.68 188.34,232.42 188.46,233.16 188.59,233.90 188.71,234.64 188.83,235.38 188.94,236.12 189.06,236.86 189.17,237.60 189.29,238.34 189.40,239.09 189.51,239.83 189.62,240.57 189.73,241.31 189.83,242.05 189.94,242.80 190.05,243.54 190.16,244.28 190.27,245.02 190.38,245.76 190.49,246.51 190.60,247.25 190.72,247.99 190.83,248.73 190.95,249.47 191.07,250.21 191.19,250.95 191.31,251.69 191.44,252.43 191.57,253.17 191.70,253.91 191.83,254.65 191.97,255.38 192.11,256.12 192.26,256.85 192.41,257.59 192.57,258.32 192.73,259.05 192.91,259.78 193.10,260.51 193.30,261.23 193.50,261.95 193.71,262.67 193.93,263.39 194.14,264.11 194.35,264.83 194.55,265.55 194.74,266.28 194.93,267.00 195.10,267.73 195.28,268.46 195.44,269.19 195.61,269.93 195.77,270.66 195.93,271.39 196.10,272.12 196.27,272.85 196.45,273.58 196.63,274.31 196.83,275.03 197.04,275.75 197.26,276.47 197.50,277.18 197.77,277.88 198.06,278.57 198.37,279.25 198.71,279.92 199.05,280.59 199.41,281.25 199.77,281.91 200.13,282.56 200.49,283.22 200.86,283.87 201.23,284.53 201.61,285.17 201.99,285.82 202.38,286.46 202.78,287.09 203.18,287.73 203.59,288.36 204.00,288.99 204.41,289.61 204.83,290.23 205.25,290.86 205.67,291.47 206.10,292.09 206.54,292.70 206.98,293.30 207.44,293.90 207.91,294.48 208.39,295.06 208.88,295.63 209.37,296.19 209.88,296.74 210.40,297.28 210.93,297.81 211.48,298.32 212.06,298.80 212.66,299.25 213.28,299.67 213.91,300.06 214.57,300.43 215.23,300.78 215.90,301.11 216.58,301.43 217.27,301.72 217.97,302.00 218.67,302.26 219.38,302.49 220.10,302.71 220.83,302.91 221.55,303.11 222.27,303.31 222.99,303.53 223.70,303.78 224.39,304.05 225.08,304.35 225.76,304.66 226.44,304.97 227.12,305.29 227.80,305.61 228.48,305.93 229.16,306.24 229.84,306.55 230.53,306.86 231.22,307.16 231.91,307.45 232.61,307.72 233.31,307.98 234.02,308.18 234.76,308.27 235.51,308.30 236.26,308.30 237.01,308.30 237.76,308.30 238.51,308.30 239.26,308.30 240.01,308.30 240.76,308.30 241.51,308.30 242.26,308.30 243.01,308.30 243.76,308.30 244.51,308.30 245.26,308.30 246.01,308.30 246.76,308.30 247.51,308.30 248.26,308.30 249.01,308.30 249.76,308.30 250.51,308.30 251.26,308.30 252.01,308.30 252.76,308.30 253.51,308.30 254.26,308.30 255.01,308.30 255.76,308.30 256.51,308.30 257.26,308.30 258.01,308.30 258.76,308.30 259.51,308.30 260.26,308.30 261.01,308.30 261.76,308.30 262.51,308.30 263.26,308.30 264.01,308.30 264.76,308.30 265.51,308.30 266.26,308.30 267.01,308.30 267.76,308.30 268.51,308.30 269.26,308.30 270.01,308.30 270.76,308.30 271.51,308.30 272.26,308.30 273.01,308.30 273.76,308.30 274.51,308.30 275.26,308.30 276.01,308.30 276.76,308.30 277.51,308.30 278.26,308.30 279.01,308.30 279.76,308.30 280.51,308.30 281.26,308.30 282.01,308.30 282.76,308.30 283.51,308.30 284.26,308.30 285.01,308.30 285.76,308.30 286.51,308.30 287.26,308.30 288.01,308.30 288.76,308.30 289.51,308.30 290.26,308.30 291.01,308.30 291.76,308.30 292.51,308.30 293.26,308.30 294.01,308.30 294.76,308.30 295.51,308.30 296.26,308.30 297.01,308.30 297.76,308.30 298.51,308.30 299.26,308.30 300.01,308.30 300.76,308.30 301.51,308.30 302.26,308.30 303.01,308.30 303.76,308.30 304.51,308.30 305.26,308.30 306.01,308.30 306.76,308.30 307.51,308.30 308.26,308.30 309.01,308.30 309.76,308.30 310.51,308.30 311.26,308.30 312.01,308.30 312.76,308.30 313.51,308.30 314.26,308.27 315.00,308.21 315.74,308.09 316.45,307.88 317.11,307.56 317.74,307.16 318.38,306.77 319.06,306.46 319.76,306.22 320.48,306.01 321.20,305.80 321.90,305.54 322.57,305.21 323.20,304.82 323.82,304.40 324.46,304.01 325.14,303.69 325.84,303.46 326.57,303.27 327.30,303.10 328.03,302.92 328.75,302.72 329.47,302.51 330.16,302.25 330.80,301.88 331.32,301.38 331.74,300.77 332.11,300.12 332.47,299.46 332.89,298.85 333.39,298.31 333.97,297.84 334.58,297.41 335.17,296.95 335.69,296.42 336.14,295.82 336.54,295.19 336.90,294.53 337.24,293.86 337.57,293.19 337.89,292.52 338.23,291.84 338.57,291.18 338.92,290.52 339.27,289.85 339.62,289.19 339.96,288.52 340.31,287.85 340.65,287.19 340.99,286.52 341.32,285.85 341.66,285.18 342.00,284.51 342.33,283.84 342.67,283.17 343.00,282.49 343.33,281.82 343.66,281.15 343.98,280.47 344.30,279.79 344.62,279.11 344.93,278.43 345.23,277.74 345.53,277.05 345.83,276.37 346.12,275.67 346.41,274.98 346.70,274.29 346.98,273.60 347.26,272.90 347.55,272.21 347.83,271.51 348.11,270.82 348.39,270.12 348.66,269.42 348.93,268.72 349.20,268.02 349.46,267.32 349.71,266.61 349.97,265.91 350.23,265.20 350.49,264.50 350.76,263.80 351.03,263.10 351.31,262.40 351.60,261.71 351.89,261.02 352.20,260.34 352.52,259.66 352.85,258.99 353.18,258.32 353.52,257.64 353.87,256.98 354.24,256.33 354.65,255.71 355.12,255.12 355.65,254.60 356.24,254.15 356.88,253.78 357.57,253.51 358.28,253.41 358.99,253.53 359.67,253.82 360.29,254.23 360.85,254.71 361.35,255.26 361.79,255.87 362.17,256.51 362.51,257.18 362.82,257.86 363.12,258.55 363.40,259.24 363.66,259.94 363.92,260.65 364.16,261.36 364.39,262.07 364.60,262.79 364.81,263.51 365.00,264.24 365.19,264.96 365.38,265.69 365.57,266.42 365.75,267.14 365.94,267.87 366.12,268.60 366.32,269.32 366.52,270.04 366.72,270.77 366.93,271.49 367.14,272.21 367.35,272.93 367.55,273.65 367.76,274.37 367.97,275.09 368.18,275.81 368.40,276.53 368.62,277.24 368.84,277.96 369.07,278.67 369.30,279.39 369.54,280.10 369.79,280.81 370.05,281.51 370.32,282.21 370.59,282.91 370.87,283.60 371.15,284.30 371.42,285.00 371.69,285.70 371.95,286.40 372.19,287.11 372.42,287.82 372.63,288.54 372.83,289.27 373.02,289.99 373.20,290.72 373.38,291.45 373.57,292.18 373.77,292.90 373.98,293.62 374.22,294.33 374.48,295.03 374.79,295.71 375.15,296.37 375.57,296.98 376.05,297.56 376.56,298.11 377.07,298.65 377.59,299.20 378.10,299.75 378.61,300.30 379.13,300.84 379.66,301.36 380.22,301.87 380.80,302.34 381.41,302.77 382.06,303.14 382.73,303.47 383.40,303.80 384.07,304.14 384.69,304.55 385.23,305.05 385.66,305.65 386.03,306.30 386.39,306.95 386.83,307.52 387.42,307.91 388.11,308.12 388.85,308.22 389.59,308.28 390.34,308.30 391.09,308.30 391.84,308.30 392.59,308.30 393.34,308.30 394.09,308.30 394.84,308.30 395.59,308.30 396.34,308.30 397.09,308.30 397.84,308.30 398.59,308.30 399.34,308.30 400.09,308.30 400.84,308.30 401.59,308.30 402.34,308.30 403.09,308.30 403.84,308.30 404.59,308.30 405.34,308.30 406.09,308.30 406.84,308.30 407.59,308.30 408.34,308.30 409.09,308.30 409.84,308.30 410.59,308.30 411.34,308.30 412.09,308.30 412.84,308.30 413.59,308.30 414.34,308.30 415.09,308.30 415.84,308.30 416.59,308.30 417.34,308.30 418.09,308.30 418.84,308.30 419.59,308.30 420.34,308.30 421.09,308.30 421.84,308.30 422.59,308.30 423.34,308.30 424.09,308.30 424.84,308.30 425.59,308.30 426.34,308.30 427.09,308.30 427.84,308.30 428.59,308.30 429.34,308.30 430.09,308.30 430.84,308.30 431.59,308.30 432.34,308.30 433.09,308.30 433.84,308.30 434.59,308.30 435.34,308.30 436.09,308.30 436.84,308.30 437.59,308.30 438.34,308.30 439.09,308.30 439.84,308.30 440.59,308.30 441.34,308.30 442.09,308.30 442.84,308.30 443.59,308.30 444.34,308.30 445.09,308.30 445.84,308.30 446.59,308.30 447.34,308.30 448.09,308.30 448.84,308.30 449.59,308.30 450.34,308.30 451.09,308.30 451.84,308.30 452.59,308.30 453.34,308.30 454.09,308.30 454.84,308.30 455.59,308.30 456.34,308.30 457.09,308.30 457.84,308.30 458.59,308.30 459.34,308.30 460.09,308.30 460.84,308.30 461.59,308.30 462.34,308.30 463.09,308.30 463.84,308.30 464.59,308.30 465.34,308.30 466.09,308.30 466.84,308.30 467.59,308.30 468.34,308.30 469.09,308.30 469.84,308.30 470.59,308.30 471.34,308.30 472.09,308.30 472.84,308.30 473.59,308.30 474.34,308.30 475.09,308.30 475.84,308.30 476.59,308.30 477.34,308.30 478.09,308.30 478.84,308.30 479.59,308.30 480.34,308.30 481.09,308.30 481.84,308.30 482.59,308.30 483.34,308.30 484.09,308.30 484.84,308.30 485.59,308.30 486.34,308.30 487.09,308.30 487.84,308.30 488.59,308.30 489.34,308.30 490.09,308.30 490.84,308.30 491.59,308.30 492.34,308.30 493.09,308.30 493.84,308.30 494.59,308.30 495.34,308.30 496.09,308.30 496.84,308.30 497.59,308.30 498.34,308.29 499.09,308.25 499.83,308.17 500.50,307.96 501.03,307.52 501.42,306.91 501.75,306.26 502.08,305.76 502.44,305.70 502.78,306.13 503.10,306.77 503.48,307.40 503.97,307.88 504.62,308.14 505.35,308.24 506.10,308.28 506.85,308.30 507.60,308.30 508.35,308.30 509.10,308.30 509.85,308.30 510.60,308.30 511.35,308.30 512.10,308.30 512.85,308.30 513.60,308.30 514.35,308.30 515.10,308.30 515.85,308.30 516.60,308.30 517.35,308.30 518.10,308.30 518.85,308.30 519.60,308.30 520.35,308.30 521.10,308.30 521.85,308.30 522.60,308.30 523.35,308.30 524.10,308.30 524.85,308.30 525.60,308.30 526.35,308.30 527.10,308.30 527.85,308.30 528.60,308.30 529.34,308.30 530.05,308.30 530.57,308.30"/>
</g>
<g font-size="12.8" stroke="#111" stroke-width="0.35">
<text x="58" y="18.1" text-anchor="end">0.30</text>
<text x="58" y="67.3" text-anchor="end">0.25</text>
<text x="58" y="116.4" text-anchor="end">0.20</text>
<text x="58" y="165.6" text-anchor="end">0.15</text>
<text x="58" y="214.8" text-anchor="end">0.10</text>
<text x="58" y="263.9" text-anchor="end">0.05</text>
<text x="58" y="313.1" text-anchor="end">0.00</text>
<text x="70.5" y="331" text-anchor="middle">380</text>
<text x="116.5" y="331" text-anchor="middle">420</text>
<text x="162.5" y="331" text-anchor="middle">460</text>
<text x="208.5" y="331" text-anchor="middle">500</text>
<text x="254.5" y="331" text-anchor="middle">540</text>
<text x="300.5" y="331" text-anchor="middle">580</text>
<text x="346.5" y="331" text-anchor="middle">620</text>
<text x="392.5" y="331" text-anchor="middle">660</text>
<text x="438.5" y="331" text-anchor="middle">700</text>
<text x="484.5" y="331" text-anchor="middle">740</text>
<text x="530.5" y="331" text-anchor="middle">780</text>
</g>
<text x="301.5" y="349.8" text-anchor="middle" font-size="12.3" font-weight="bold">Wavelength in nm</text>
<text transform="translate(18,167.5) rotate(-90)" text-anchor="middle" font-size="12.3" font-weight="bold">Abs. Spectral Power Distribution in W/m²nm</text>
<rect x="72.5" y="16" width="202.5" height="43.5" fill="#fff" stroke="#e8e8e8" stroke-width="1"/>
<g stroke-linecap="round" fill="none">
<line x1="93" y1="23.5" x2="109.6" y2="23.5" stroke="#00b0f0" stroke-width="4.4"/>
<line x1="93" y1="38.3" x2="109.6" y2="38.3" stroke="#ff0000" stroke-width="2.6"/>
<line x1="93" y1="53.4" x2="109.6" y2="53.4" stroke="#ff00ff" stroke-width="2.6"/>
</g>
<g font-size="11" letter-spacing="0.3" stroke="#111" stroke-width="0.3">
<text x="111.8" y="27">Ch1 - Chamber 1 - White</text>
<text x="111.8" y="41.6">Ch2 - Chamber 2 - Red</text>
<text x="111.8" y="56.5">Ch5 - Chamber 5 - Blue/Red</text>
</g>
</svg>
</body></html>
